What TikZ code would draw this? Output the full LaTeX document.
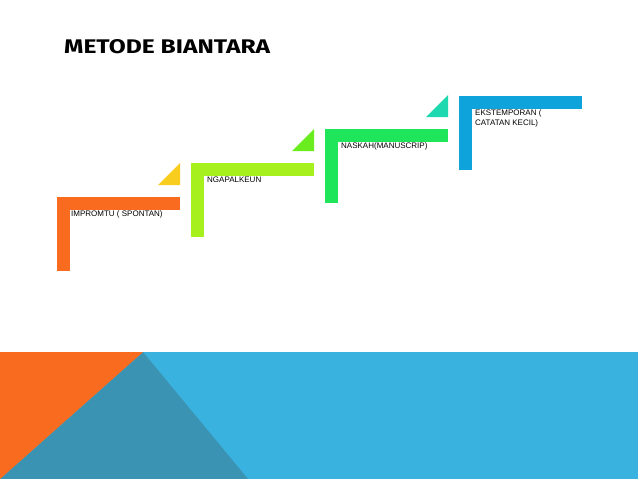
\documentclass[tikz,border=0pt]{standalone}
\usepackage{fontspec}
\setmainfont{Liberation Sans}
\newfontfamily\titlefont{Fira Sans}
\definecolor{corange}{HTML}{F96B1E}
\definecolor{cyellow}{HTML}{F9CD1E}
\definecolor{clime}{HTML}{A6F01E}
\definecolor{cgreen}{HTML}{6BEC1E}
\definecolor{cgreen2}{HTML}{1EE55A}
\definecolor{cteal}{HTML}{1ED9B0}
\definecolor{cblue}{HTML}{0FA3DC}
\definecolor{bandblue}{HTML}{3AB2DF}
\definecolor{banddark}{HTML}{3A93B2}
\tikzset{lbl/.style={anchor=north west,inner sep=0pt,font=\fontsize{8}{10}\selectfont,align=left}}
\begin{document}
\begin{tikzpicture}[x=1pt,y=-1pt]
\useasboundingbox (0,0) rectangle (638,479);
\fill[white] (0,0) rectangle (638,479);
\node[anchor=west,inner sep=0pt,font=\titlefont\bfseries\fontsize{19}{20}\selectfont] (title) at (64,47) {\resizebox{206pt}{14pt}{METODE BIANTARA}};
% band
\fill[bandblue] (0,352) rectangle (638,479);
\fill[banddark] (143,352) -- (248,479) -- (0,479) -- cycle;
\fill[corange] (0,352) -- (143,352) -- (0,479) -- cycle;
% steps
\newcommand\stepshape[4]{% x y color tricolor
  \fill[#3] (#1,#2) rectangle ++(123,13);
  \fill[#3] (#1,#2) rectangle ++(13,74);
  \fill[#4] (#1+101,#2-12) -- (#1+123,#2-12) -- (#1+123,#2-34) -- cycle;}
\stepshape{57}{197}{corange}{cyellow}
\stepshape{191}{163}{clime}{cgreen}
\stepshape{325}{129}{cgreen2}{cteal}
\fill[cblue] (459,96) rectangle ++(123,13);
\fill[cblue] (459,96) rectangle ++(13,74);
\node[lbl] (s1) at (71,211) {IMPROMTU ( SPONTAN)};
\node[lbl] (s2) at (207,177) {NGAPALKEUN};
\node[lbl] (s3) at (341,143) {NASKAH(MANUSCRIP)};
\node[lbl] (s4) at (475,110) {EKSTEMPORAN (\\CATATAN KECIL)};
\end{tikzpicture}
\end{document}
